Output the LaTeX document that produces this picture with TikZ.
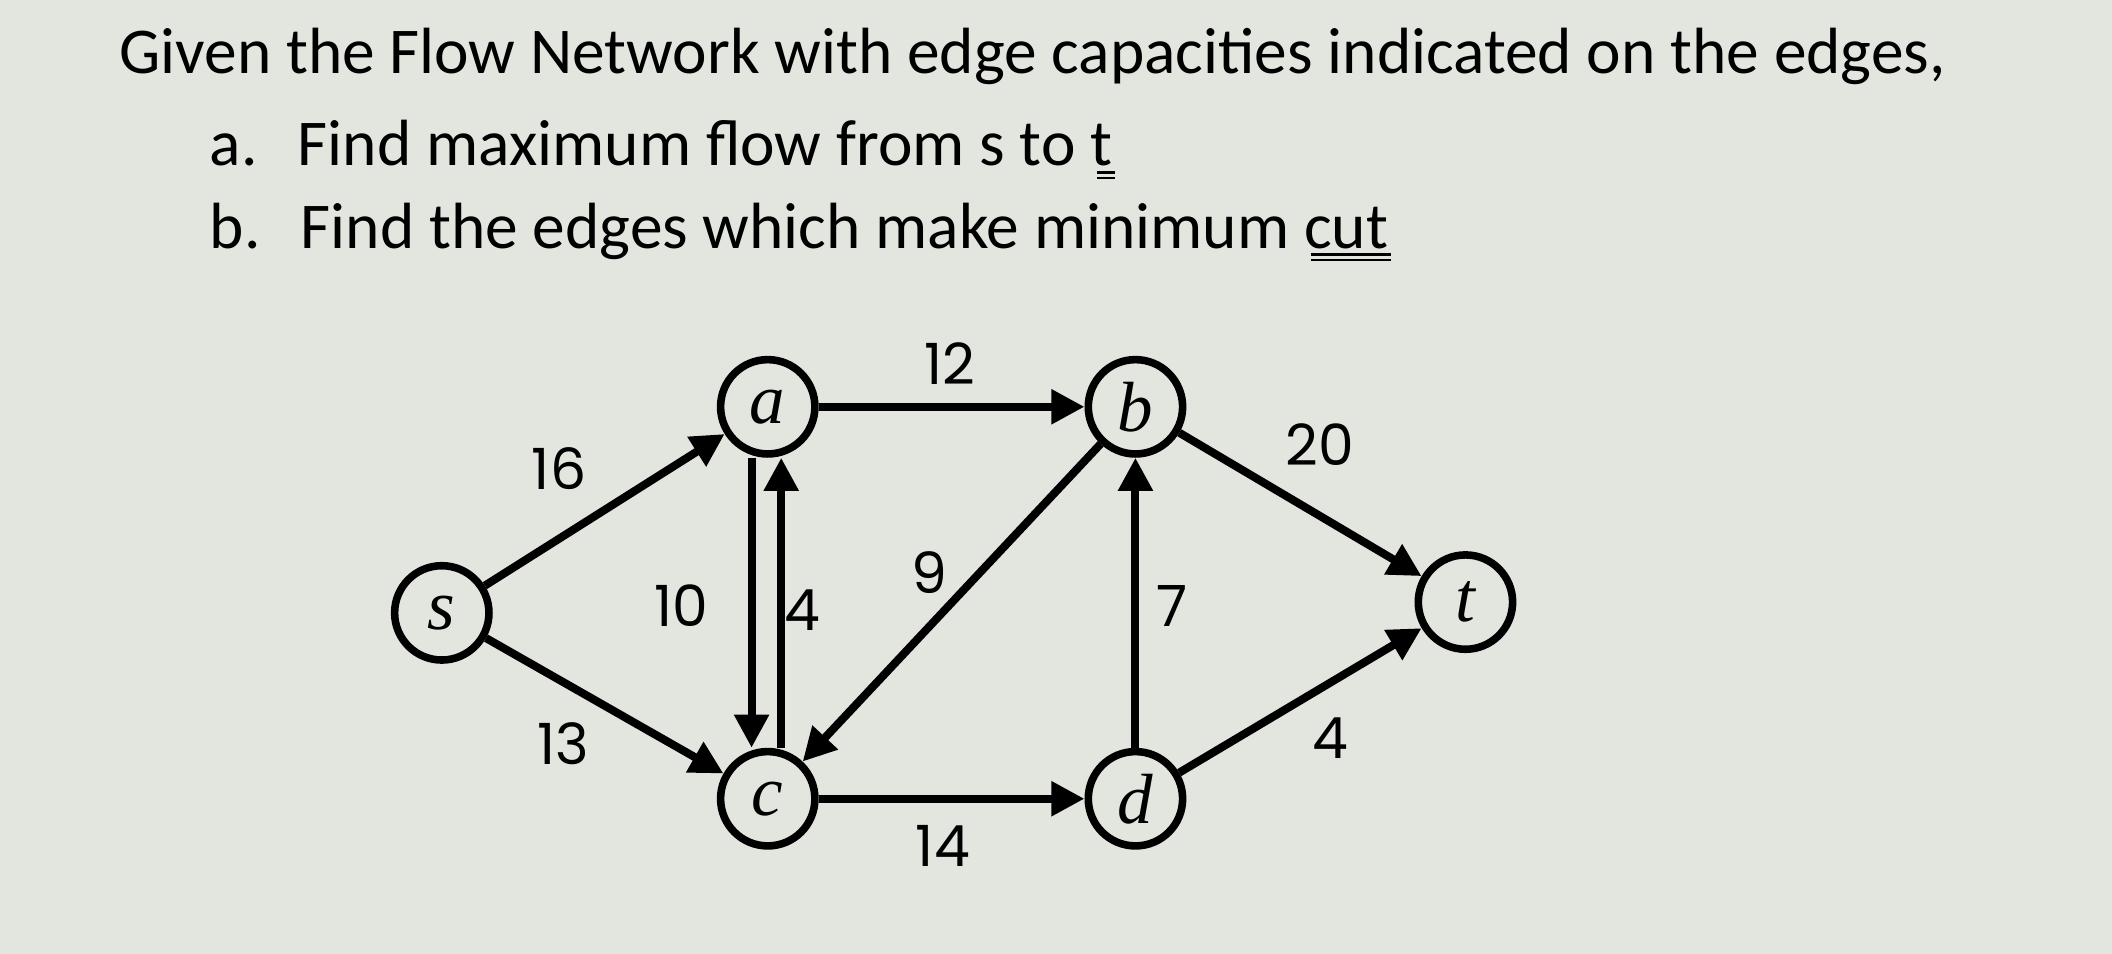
\documentclass[tikz,border=0pt]{standalone}
\usepackage{fontspec}
\setmainfont{Carlito}
\newfontfamily\numfont{Poppins}
\newfontfamily\vfont{Liberation Serif}
\usetikzlibrary{arrows.meta}
\begin{document}
\begin{tikzpicture}[x=0.01cm,y=-0.01cm,
  vert/.style={circle,draw,line width=1.6pt,minimum size=0.7cm,inner sep=0pt,font=\fontsize{15}{15}\selectfont\vfont\itshape},
  edge/.style={line width=1.7pt,-{Triangle[length=7pt,width=7pt]}},
  capl/.style={font=\fontsize{12}{12}\selectfont\numfont},
  txt/.style={anchor=west,inner sep=0pt,font=\fontsize{13.8}{14}\selectfont}]
\fill[fill={rgb,255:red,226;green,230;blue,223}] (0,0) rectangle (1568,708);
\useasboundingbox (0,0) rectangle (1568,708);
\node[txt] (l1) at (88,42) {Given the Flow Network with edge capacities indicated on the edges,};
\node[txt] (l2) at (155,106) {a.\hspace{0.3cm}Find maximum flow from s to t};
\node[txt] (l3) at (155,172) {b.\hspace{0.3cm}Find the edges which make minimum cut};
\draw[line width=0.5pt] (l2.east) ++(-12,22) -- ++(13,0) ++(-13,4) -- ++(13,0);
\draw[line width=0.5pt] (l3.east) ++(-58,17) -- ++(59,0) ++(-59,4) -- ++(59,0);
\node[vert] (s) at (328,455) {s};
\node[vert] (a) at (570,302) {a};
\node[vert] (b) at (843,302) {b};
\node[vert] (c) at (570,593) {c};
\node[vert] (d) at (843,593) {d};
\node[vert] (t) at (1088,447) {t};
\draw[edge] (s) -- (a);
\draw[edge] (s) -- (c);
\draw[edge] (a) -- (b);
\draw[edge] (c) -- (d);
\draw[edge] (b) -- (t);
\draw[edge] (d) -- (t);
\draw[edge] (d) -- (b);
\draw[edge] (b) -- (c);
\draw[edge] ([xshift=-0.12cm]a.south) -- ([xshift=-0.12cm]c.north);
\draw[edge] ([xshift=0.1cm]c.north) -- ([xshift=0.1cm]a.south);
\node[capl] (n16) at (415,348) {16};
\node[capl] (n13) at (418,552) {13};
\node[capl] (n12) at (705,270) {12};
\node[capl] (n10) at (506,450) {10};
\node[capl] (n4a) at (596,453) {4};
\node[capl] (n9) at (690,425) {9};
\node[capl] (n7) at (870,450) {7};
\node[capl] (n20) at (980,330) {20};
\node[capl] (n4b) at (988,548) {4};
\node[capl] (n14) at (700,628) {14};
\end{tikzpicture}
\end{document}
